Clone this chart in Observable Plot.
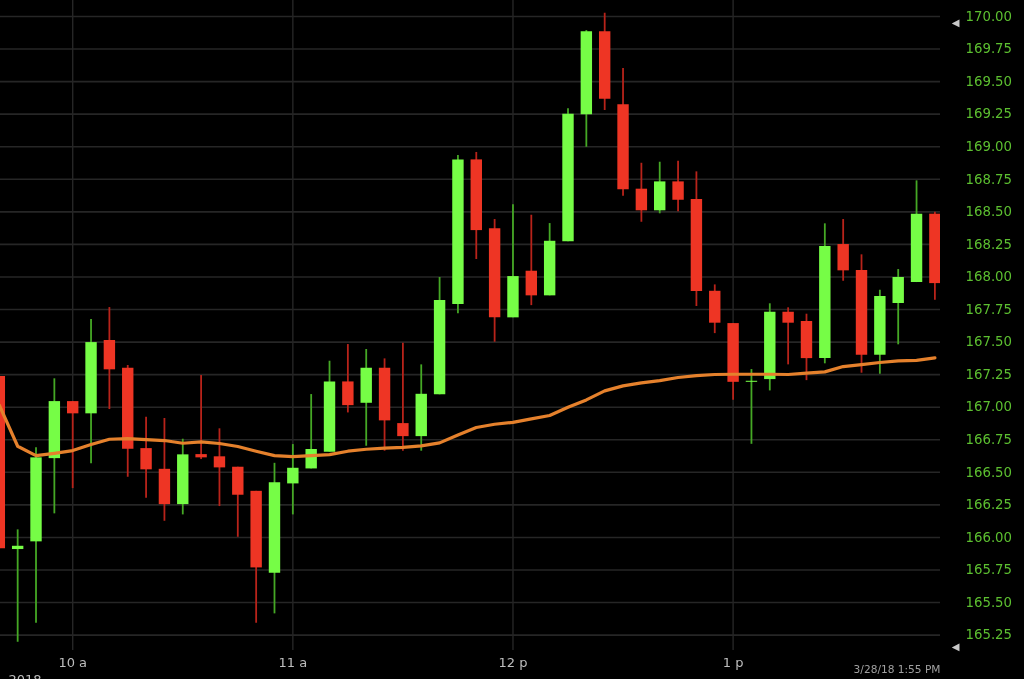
<!DOCTYPE html>
<html>
<head>
<meta charset="utf-8">
<script src="https://cdn.jsdelivr.net/npm/d3@7"></script>
<script src="https://cdn.jsdelivr.net/npm/@observablehq/plot@0.6"></script>
<style>
html,body{margin:0;padding:0;background:#000;overflow:hidden}
svg{display:block;filter:blur(0.4px)}
</style>
</head>
<body>
<div id="chart"></div>
<script>
const times = ["9:40","9:45","9:50","9:55","10:00","10:05","10:10","10:15","10:20","10:25","10:30","10:35","10:40","10:45","10:50","10:55","11:00","11:05","11:10","11:15","11:20","11:25","11:30","11:35","11:40","11:45","11:50","11:55","12:00","12:05","12:10","12:15","12:20","12:25","12:30","12:35","12:40","12:45","12:50","12:55","13:00","13:05","13:10","13:15","13:20","13:25","13:30","13:35","13:40","13:45","13:50","13:55"];
const opens = [167.235,165.907,165.966,166.605,167.043,166.949,167.512,167.299,166.682,166.523,166.252,166.636,166.619,166.539,166.354,165.725,166.411,166.526,166.654,167.194,167.03,167.299,166.874,166.774,167.095,167.788,168.899,168.37,167.686,168.044,167.855,168.27,169.245,169.882,169.322,168.674,168.508,168.73,168.595,167.89,167.642,167.191,167.212,167.729,167.658,167.373,168.249,168.05,167.399,167.796,167.957,168.482];
const highs = [167.235,166.058,166.688,167.218,167.043,167.673,167.765,167.32,166.923,166.913,166.754,167.243,166.834,166.539,166.354,166.569,166.713,167.097,167.353,167.481,167.443,167.371,167.491,167.325,167.996,168.932,168.956,168.441,168.554,168.474,168.41,169.291,169.892,170.025,169.601,168.873,168.881,168.889,168.807,167.939,167.642,167.289,167.794,167.763,167.714,168.408,168.441,168.17,167.898,168.057,168.738,168.497];
const lows = [165.914,165.195,165.341,166.181,166.375,166.565,166.982,166.462,166.301,166.124,166.173,166.598,166.237,166.001,165.341,165.413,166.173,166.526,166.654,166.956,166.70,166.662,166.662,166.662,167.095,167.717,168.134,167.499,167.686,167.78,167.855,168.27,168.996,169.278,168.62,168.42,168.485,168.50,167.773,167.565,167.053,166.715,167.125,167.325,167.204,167.333,167.967,167.261,167.253,167.479,167.957,167.821];
const closes = [165.914,165.932,166.611,167.043,166.949,167.496,167.287,166.677,166.519,166.252,166.634,166.611,166.534,166.324,165.766,166.419,166.531,166.675,167.194,167.012,167.299,166.895,166.774,167.099,167.819,168.899,168.356,167.686,168.003,167.855,168.274,169.25,169.882,169.365,168.669,168.508,168.73,168.589,167.888,167.645,167.191,167.199,167.729,167.645,167.373,168.234,168.047,167.399,167.85,167.996,168.482,167.949];
const movingAverage = [167.015,166.70,166.628,166.646,166.667,166.713,166.754,166.759,166.751,166.744,166.723,166.734,166.721,166.698,166.662,166.628,166.621,166.628,166.636,166.662,166.677,166.685,166.692,166.703,166.726,166.787,166.844,166.869,166.884,166.91,166.936,166.999,167.056,167.125,167.164,167.187,167.204,167.228,167.243,167.251,167.253,167.253,167.253,167.251,167.261,167.271,167.312,167.327,167.343,167.356,167.36,167.379];
const yTicks = [165.25,165.5,165.75,166,166.25,166.5,166.75,167,167.25,167.5,167.75,168,168.25,168.5,168.75,169,169.25,169.5,169.75,170];
const xTicks = ["10:00","11:00","12:00","13:00"];
const xTickLabels = ["10 a","11 a","12 p","1 p"];

const minutes = s => { const [h,m] = s.split(":").map(Number); return h*60+m; };
const candles = times.map((t,i)=>({t:minutes(t),o:opens[i],h:highs[i],l:lows[i],c:closes[i],ma:movingAverage[i]}));
const up = candles.filter(d=>d.c>=d.o);
const down = candles.filter(d=>d.c<d.o);

const GREEN="#76fd46", RED="#ee3524", GREEN_W="#45a825", RED_W="#b8231a";
const font="'DejaVu Sans', Verdana, sans-serif";

const chart = Plot.plot({
  width:1024,height:679,
  marginTop:0,marginLeft:0,marginRight:84,marginBottom:29,
  style:{background:"#000",fontFamily:font},
  x:{type:"linear",domain:[600,780],range:[72.2,732.6]},
  y:{type:"linear",domain:[165.25,170],range:[634.6,16]},
  marks:[
    Plot.ruleY(yTicks,{stroke:"#262626",strokeWidth:1.6}),
    Plot.ruleX(xTicks.map(minutes),{stroke:"#262626",strokeWidth:1.4}),
    Plot.ruleX(up,{x:"t",y1:"l",y2:"h",stroke:GREEN_W,strokeWidth:1.8}),
    Plot.ruleX(down,{x:"t",y1:"l",y2:"h",stroke:RED_W,strokeWidth:1.8}),
    Plot.ruleX(up,{x:"t",y1:"o",y2:"c",stroke:GREEN,strokeWidth:11.4,clip:true}),
    Plot.ruleX(down,{x:"t",y1:"o",y2:"c",stroke:RED,strokeWidth:11.4,clip:true}),
    Plot.line(candles,{x:"t",y:"ma",stroke:"#e5812c",strokeWidth:3.2,clip:true}),
    Plot.axisY(yTicks,{anchor:"right",tickSize:0,tickPadding:25,tickFormat:d3.format(".2f"),fontSize:13.3,color:"#5cbf30",label:null,textAnchor:"start"}),
    Plot.axisX(xTicks.map(minutes),{anchor:"bottom",tickSize:0,tickPadding:7,tickFormat:d=>xTickLabels[xTicks.map(minutes).indexOf(d)],fontSize:13,color:"#bdbdbd",label:null}),
    Plot.text(["2018"],{frameAnchor:"bottom-left",dx:8,dy:33,fontSize:13,fill:"#bdbdbd",textAnchor:"start"}),
    Plot.text(["3/28/18 1:55 PM"],{frameAnchor:"bottom-right",dy:22,fontSize:10.6,fill:"#a0a0a0",textAnchor:"end"}),
    Plot.text(["◀"],{frameAnchor:"top-right",dx:19,dy:18.5,fontSize:10,fill:"#c8c8c8"}),
    Plot.text(["◀"],{frameAnchor:"bottom-right",dx:19,dy:-1,fontSize:10,fill:"#c8c8c8"})
  ]
});
document.getElementById("chart").appendChild(chart);
</script>
</body>
</html>
